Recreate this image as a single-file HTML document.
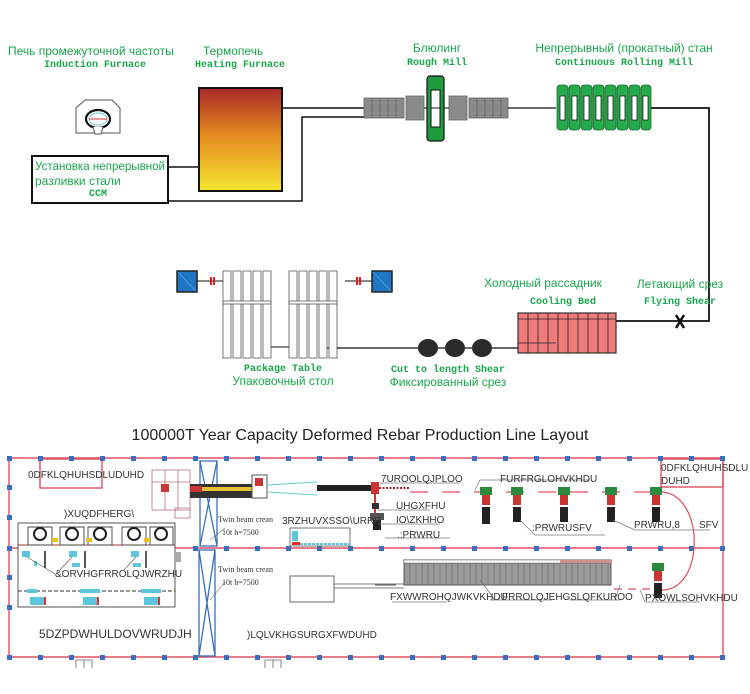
<!DOCTYPE html>
<html><head><meta charset="utf-8"><style>
html,body{margin:0;padding:0;background:#fff;}
svg{display:block}
.g{fill:#1aa64c;font-family:"Liberation Sans","DejaVu Sans",sans-serif;font-size:12px}
.ge{fill:#1aa64c;font-family:"Liberation Mono",monospace;font-size:10px;font-weight:bold}
.b{fill:#333;font-family:"Liberation Sans","DejaVu Sans",sans-serif;font-size:10px}
.s{fill:#333;font-family:"Liberation Serif",serif;font-size:8px}
</style></head><body>
<svg width="750" height="694" viewBox="0 0 750 694" xmlns="http://www.w3.org/2000/svg">
<defs>
<linearGradient id="hf" x1="0" y1="0" x2="0" y2="1">
<stop offset="0" stop-color="#a8282a"/><stop offset="0.45" stop-color="#e48a20"/><stop offset="1" stop-color="#f5e630"/>
</linearGradient>
</defs>
<!-- top labels -->
<text class="g" x="8" y="55">Печь промежуточной частоты</text>
<text class="ge" x="95" y="67" text-anchor="middle">Induction Furnace</text>
<text class="g" x="203" y="55">Термопечь</text>
<text class="ge" x="240" y="67" text-anchor="middle">Heating Furnace</text>
<text class="g" x="437" y="52" text-anchor="middle">Блюлинг</text>
<text class="ge" x="437" y="65" text-anchor="middle">Rough Mill</text>
<text class="g" x="624" y="52" text-anchor="middle">Непрерывный (прокатный) стан</text>
<text class="ge" x="624" y="65" text-anchor="middle">Continuous Rolling Mill</text>

<!-- induction furnace icon -->
<path d="M76 133 V108 L85 100 H112 L120 108 V133 Z" fill="#fff" stroke="#555" stroke-width="1"/>
<ellipse cx="98" cy="119" rx="12" ry="9" fill="none" stroke="#111" stroke-width="2.2"/>
<ellipse cx="98" cy="119" rx="9" ry="6" fill="none" stroke="#6cc" stroke-width="1"/>
<line x1="89" y1="119" x2="107" y2="119" stroke="#d33" stroke-width="1"/>
<path d="M93 127 L95 134 H101 L103 127" fill="#fff" stroke="#555"/>

<!-- heating furnace -->
<rect x="199" y="88" width="83" height="103" fill="url(#hf)" stroke="#111" stroke-width="2"/>
<!-- CCM -->
<rect x="32" y="156" width="136" height="47" fill="#fff" stroke="#111" stroke-width="2"/>
<text class="g" x="35" y="170" textLength="130" lengthAdjust="spacingAndGlyphs">Установка непрерывной</text>
<text class="g" x="35" y="185">разливки стали</text>
<text class="ge" x="98" y="196" text-anchor="middle">CCM</text>
<path d="M168 167 H199 M282 108 H365 M168 201 H302 V117 H365" fill="none" stroke="#111" stroke-width="1.5"/>

<!-- rough mill -->
<g fill="#8a8a8a" stroke="#666" stroke-width="0.8">
<rect x="364" y="98" width="8" height="20"/><rect x="372" y="98" width="8" height="20"/><rect x="380" y="98" width="8" height="20"/><rect x="388" y="98" width="8" height="20"/><rect x="396" y="98" width="8" height="20"/>
<rect x="406" y="96" width="18" height="24"/>
<rect x="449" y="96" width="18" height="24"/>
<rect x="469" y="98" width="8" height="20"/><rect x="477" y="98" width="8" height="20"/><rect x="485" y="98" width="8" height="20"/><rect x="493" y="98" width="8" height="20"/><rect x="501" y="98" width="7" height="20"/>
</g>
<line x1="424" y1="108" x2="449" y2="108" stroke="#111"/>
<rect x="427" y="76" width="17" height="65" rx="3" fill="#1f9a3c" stroke="#111" stroke-width="1.2"/>
<rect x="431" y="90" width="9" height="37" fill="#fff" stroke="#111"/>
<line x1="431" y1="108" x2="440" y2="108" stroke="#111"/>
<line x1="508" y1="108" x2="556" y2="108" stroke="#111" stroke-width="1.2"/>
<!-- continuous mill -->
<g>
<g fill="#27a84a" stroke="#1c6b30" stroke-width="0.8">
<rect x="557" y="85" width="11" height="45" rx="3"/><rect x="569" y="85" width="11" height="45" rx="3"/><rect x="581" y="85" width="11" height="45" rx="3"/><rect x="593" y="85" width="11" height="45" rx="3"/><rect x="605" y="85" width="11" height="45" rx="3"/><rect x="617" y="85" width="11" height="45" rx="3"/><rect x="629" y="85" width="11" height="45" rx="3"/><rect x="641" y="85" width="10" height="45" rx="3"/>
</g>
<g fill="#fff" stroke="#111" stroke-width="0.7">
<rect x="560" y="96" width="5" height="24"/><rect x="572" y="96" width="5" height="24"/><rect x="584" y="96" width="5" height="24"/><rect x="596" y="96" width="5" height="24"/><rect x="608" y="96" width="5" height="24"/><rect x="620" y="96" width="5" height="24"/><rect x="632" y="96" width="5" height="24"/><rect x="643" y="96" width="5" height="24"/>
</g>
</g>
<path d="M651 108 H709 V321 H616" fill="none" stroke="#111" stroke-width="1.8"/>
<!-- flying shear -->
<path d="M676 315 L684 328 M684 315 L676 328" stroke="#111" stroke-width="2.5"/>
<text class="g" x="543" y="287" text-anchor="middle">Холодный рассадник</text>
<text class="ge" x="563" y="304" text-anchor="middle">Cooling Bed</text>
<text class="g" x="680" y="288" text-anchor="middle">Летающий срез</text>
<text class="ge" x="680" y="304" text-anchor="middle">Flying Shear</text>
<!-- cooling bed -->
<rect x="518" y="313" width="98" height="40" fill="#ef7b7b" stroke="#333" stroke-width="1.2"/>
<g stroke="#222" stroke-width="0.8">
<line x1="528" y1="313" x2="528" y2="353"/><line x1="538" y1="313" x2="538" y2="353"/><line x1="548" y1="313" x2="548" y2="353"/><line x1="558" y1="313" x2="558" y2="353"/><line x1="568" y1="313" x2="568" y2="353"/><line x1="578" y1="313" x2="578" y2="353"/><line x1="588" y1="313" x2="588" y2="353"/><line x1="598" y1="313" x2="598" y2="353"/><line x1="608" y1="313" x2="608" y2="353"/>
<line x1="518" y1="319" x2="616" y2="319"/><line x1="518" y1="343" x2="556" y2="343"/>
</g>
<!-- cut shears -->
<line x1="326" y1="348" x2="518" y2="348" stroke="#111" stroke-width="1.2"/>
<ellipse cx="428" cy="348" rx="10" ry="9" fill="#2a2a2a"/>
<ellipse cx="455" cy="348" rx="10" ry="9" fill="#2a2a2a"/>
<ellipse cx="482" cy="348" rx="10" ry="9" fill="#2a2a2a"/>
<text class="ge" x="448" y="372" text-anchor="middle">Cut to length Shear</text>
<text class="g" x="448" y="386" text-anchor="middle">Фиксированный срез</text>
<!-- package table -->
<g fill="#fff" stroke="#555" stroke-width="0.8">
<rect x="223" y="271" width="8" height="87"/><rect x="233" y="271" width="8" height="87"/><rect x="243" y="271" width="8" height="87"/><rect x="253" y="271" width="8" height="87"/><rect x="263" y="271" width="8" height="87"/>
<rect x="289" y="271" width="8" height="87"/><rect x="299" y="271" width="8" height="87"/><rect x="309" y="271" width="8" height="87"/><rect x="319" y="271" width="8" height="87"/><rect x="329" y="271" width="8" height="87"/>
<rect x="223" y="301" width="48" height="3"/><rect x="289" y="301" width="48" height="3"/>
</g>
<line x1="271" y1="347" x2="289" y2="347" stroke="#111"/>
<line x1="337" y1="348" x2="345" y2="348" stroke="#111"/>
<rect x="177" y="271" width="20" height="21" fill="#2176c4" stroke="#222" stroke-width="1.5"/>
<line x1="178" y1="272" x2="196" y2="291" stroke="#5aa0e0" stroke-width="0.7"/>
<rect x="372" y="271" width="20" height="21" fill="#2176c4" stroke="#222" stroke-width="1.5"/>
<line x1="373" y1="272" x2="391" y2="291" stroke="#5aa0e0" stroke-width="0.7"/>
<path d="M197 281 H223 M345 281 H372" stroke="#111"/>
<path d="M211 277 V285 M214 277 V285 M357 277 V285 M360 277 V285" stroke="#d22" stroke-width="2"/>
<text class="ge" x="283" y="371" text-anchor="middle">Package Table</text>
<text class="g" x="283" y="385" text-anchor="middle">Упаковочный стол</text>

<!-- title -->
<text x="360" y="440" text-anchor="middle" style="font-family:'Liberation Sans','DejaVu Sans',sans-serif;font-size:16px;fill:#222">100000T Year Capacity Deformed Rebar Production Line Layout</text>

<!-- bottom layout grid -->
<g stroke="#e05060" stroke-width="1.4" fill="none">
<line x1="9" y1="458" x2="723" y2="458"/><line x1="9" y1="548" x2="723" y2="548"/><line x1="9" y1="657" x2="723" y2="657"/>
<line x1="9" y1="458" x2="9" y2="657"/><line x1="723" y1="458" x2="723" y2="657"/>
<rect x="40" y="459" width="62" height="29"/>
<rect x="661" y="459" width="62" height="28"/>
</g>
<g fill="#3a6fc0">
<rect x="7" y="456" width="5" height="5"/><rect x="38" y="456" width="5" height="5"/><rect x="69" y="456" width="5" height="5"/><rect x="100" y="456" width="5" height="5"/><rect x="131" y="456" width="5" height="5"/><rect x="162" y="456" width="5" height="5"/><rect x="193" y="456" width="5" height="5"/><rect x="224" y="456" width="5" height="5"/><rect x="255" y="456" width="5" height="5"/><rect x="286" y="456" width="5" height="5"/><rect x="317" y="456" width="5" height="5"/><rect x="348" y="456" width="5" height="5"/><rect x="379" y="456" width="5" height="5"/><rect x="410" y="456" width="5" height="5"/><rect x="441" y="456" width="5" height="5"/><rect x="472" y="456" width="5" height="5"/><rect x="503" y="456" width="5" height="5"/><rect x="534" y="456" width="5" height="5"/><rect x="565" y="456" width="5" height="5"/><rect x="596" y="456" width="5" height="5"/><rect x="627" y="456" width="5" height="5"/><rect x="658" y="456" width="5" height="5"/><rect x="689" y="456" width="5" height="5"/><rect x="720" y="456" width="5" height="5"/>
<rect x="7" y="546" width="5" height="5"/><rect x="38" y="546" width="5" height="5"/><rect x="69" y="546" width="5" height="5"/><rect x="100" y="546" width="5" height="5"/><rect x="131" y="546" width="5" height="5"/><rect x="162" y="546" width="5" height="5"/><rect x="193" y="546" width="5" height="5"/><rect x="224" y="546" width="5" height="5"/><rect x="255" y="546" width="5" height="5"/><rect x="286" y="546" width="5" height="5"/><rect x="317" y="546" width="5" height="5"/><rect x="348" y="546" width="5" height="5"/><rect x="379" y="546" width="5" height="5"/><rect x="410" y="546" width="5" height="5"/><rect x="441" y="546" width="5" height="5"/><rect x="472" y="546" width="5" height="5"/><rect x="503" y="546" width="5" height="5"/><rect x="534" y="546" width="5" height="5"/><rect x="565" y="546" width="5" height="5"/><rect x="596" y="546" width="5" height="5"/><rect x="627" y="546" width="5" height="5"/><rect x="658" y="546" width="5" height="5"/><rect x="689" y="546" width="5" height="5"/><rect x="720" y="546" width="5" height="5"/>
<rect x="7" y="655" width="5" height="5"/><rect x="38" y="655" width="5" height="5"/><rect x="69" y="655" width="5" height="5"/><rect x="100" y="655" width="5" height="5"/><rect x="131" y="655" width="5" height="5"/><rect x="162" y="655" width="5" height="5"/><rect x="193" y="655" width="5" height="5"/><rect x="224" y="655" width="5" height="5"/><rect x="255" y="655" width="5" height="5"/><rect x="286" y="655" width="5" height="5"/><rect x="317" y="655" width="5" height="5"/><rect x="348" y="655" width="5" height="5"/><rect x="379" y="655" width="5" height="5"/><rect x="410" y="655" width="5" height="5"/><rect x="441" y="655" width="5" height="5"/><rect x="472" y="655" width="5" height="5"/><rect x="503" y="655" width="5" height="5"/><rect x="534" y="655" width="5" height="5"/><rect x="565" y="655" width="5" height="5"/><rect x="596" y="655" width="5" height="5"/><rect x="627" y="655" width="5" height="5"/><rect x="658" y="655" width="5" height="5"/><rect x="689" y="655" width="5" height="5"/><rect x="720" y="655" width="5" height="5"/>
<rect x="7" y="485" width="5" height="5"/><rect x="7" y="515" width="5" height="5"/><rect x="7" y="575" width="5" height="5"/><rect x="7" y="605" width="5" height="5"/>
</g>
<!-- doors -->
<path d="M76 668 V660 H92 V668 M84 660 V668" fill="none" stroke="#666" stroke-width="0.8"/>
<path d="M265 668 V660 H281 V668 M273 660 V668" fill="none" stroke="#666" stroke-width="0.8"/>

<!-- melt shop building -->
<rect x="18" y="523" width="157" height="84" fill="#fff" stroke="#444" stroke-width="0.9"/>
<line x1="18" y1="591" x2="175" y2="591" stroke="#333" stroke-dasharray="4 2"/>
<line x1="18" y1="545" x2="175" y2="545" stroke="#a33" stroke-width="1"/>
<g fill="#fff" stroke="#444" stroke-width="0.9">
<path d="M28 545 V527 H52 V545 Z"/><path d="M60 545 V527 H84 V545 Z"/><path d="M88 545 V527 H112 V545 Z"/><path d="M122 545 V527 H146 V545 Z"/><path d="M150 545 V527 H173 V545 Z"/>
</g>
<g fill="none" stroke="#222" stroke-width="2">
<circle cx="40" cy="534" r="6"/><circle cx="72" cy="534" r="6"/><circle cx="100" cy="534" r="6"/><circle cx="134" cy="534" r="6"/><circle cx="161" cy="534" r="6"/>
</g>
<g fill="#5cc6dc">
<rect x="22" y="551" width="8" height="6"/><rect x="69" y="551" width="8" height="6"/><rect x="131" y="551" width="8" height="6"/>
<rect x="34" y="561" width="3" height="5"/><rect x="72" y="563" width="8" height="4"/><rect x="133" y="563" width="8" height="4"/>
<rect x="30" y="597" width="14" height="8"/><rect x="83" y="597" width="14" height="8"/><rect x="144" y="597" width="14" height="8"/>
<rect x="27" y="589" width="10" height="4"/><rect x="80" y="589" width="20" height="4"/><rect x="141" y="589" width="20" height="4"/>
</g>
<g fill="#e03030"><rect x="44" y="597" width="2" height="8"/><rect x="97" y="597" width="2" height="8"/><rect x="158" y="597" width="2" height="8"/></g>
<g fill="#e8c020"><rect x="52" y="538" width="6" height="4"/><rect x="86" y="538" width="6" height="4"/><rect x="144" y="538" width="6" height="4"/></g>
<g stroke="#222" stroke-width="1.5"><line x1="45" y1="551" x2="45" y2="568"/><line x1="85" y1="551" x2="85" y2="568"/><line x1="146" y1="551" x2="146" y2="568"/></g>
<path d="M27 557 L55 574 M72 557 L60 570 M136 557 L124 570" stroke="#555" stroke-width="0.6" fill="none"/>
<rect x="176" y="552" width="5" height="10" fill="#aaa"/>

<!-- twin beam cranes -->
<g fill="none" stroke="#3a6fc0" stroke-width="1.3">
<rect x="200" y="461" width="17" height="85"/><path d="M200 461 L217 546 M217 461 L200 546"/>
<rect x="199" y="550" width="16" height="106"/><path d="M199 550 L215 656 M215 550 L199 656"/>
</g>
<text class="s" x="218" y="522">Twin beam crean</text>
<text class="s" x="222" y="535">10t  h=7500</text>
<text class="s" x="218" y="572">Twin beam crean</text>
<text class="s" x="222" y="585">10t  h=7500</text>
<line x1="210" y1="540" x2="225" y2="528" stroke="#444" stroke-width="0.5"/>
<line x1="210" y1="600" x2="225" y2="582" stroke="#444" stroke-width="0.5"/>

<!-- furnace area top -->
<g fill="none" stroke="#b87080" stroke-width="0.8">
<rect x="152" y="470" width="38" height="40"/><line x1="152" y1="482" x2="190" y2="482"/><line x1="165" y1="470" x2="165" y2="510"/><line x1="178" y1="470" x2="178" y2="510"/>
<rect x="175" y="508" width="15" height="10"/>
</g>
<rect x="161" y="484" width="8" height="8" fill="#c33"/>
<rect x="190" y="484" width="66" height="14" fill="#333"/>
<rect x="198" y="487" width="58" height="4" fill="#e8c030"/>
<rect x="190" y="486" width="12" height="6" fill="#c33"/>
<rect x="252" y="475" width="15" height="23" fill="#fff" stroke="#555"/>
<rect x="255" y="478" width="8" height="8" fill="#c33"/>
<path d="M267 485 L317 482 M267 492 L317 495" stroke="#6cc" stroke-width="1"/>
<line x1="317" y1="488" x2="372" y2="488" stroke="#222" stroke-width="6"/>
<line x1="372" y1="488" x2="410" y2="488" stroke="#a22" stroke-width="2" stroke-dasharray="2 1.5"/>
<rect x="371" y="482" width="8" height="12" fill="#c33"/>
<line x1="375" y1="494" x2="375" y2="517" stroke="#e03030" stroke-width="2"/>
<rect x="372" y="503" width="7" height="6" fill="#333"/>
<rect x="370" y="513" width="14" height="7" fill="#555"/>
<rect x="373" y="520" width="8" height="10" fill="#222"/>
<!-- power supply -->
<rect x="290" y="528" width="60" height="18" fill="#fff" stroke="#555" stroke-width="0.8"/>
<rect x="292" y="531" width="6" height="10" fill="#5cc6dc"/>
<rect x="292" y="542" width="8" height="3" fill="#e03030"/>
<path d="M300 544 H350" stroke="#5cc6dc" stroke-width="2" stroke-dasharray="3 1"/>
<!-- finished product area -->
<rect x="290" y="576" width="44" height="26" fill="#fff" stroke="#444" stroke-width="0.8"/>
<path d="M334 584 H404 M334 588 H404" stroke="#555" stroke-width="0.7"/>

<!-- crocodile shears top -->
<line x1="410" y1="492" x2="657" y2="492" stroke="#e05060" stroke-width="1.2" stroke-dasharray="18 14"/>
<g>
<g fill="#2c8a3e"><rect x="480" y="487" width="12" height="8"/><rect x="511" y="487" width="12" height="8"/><rect x="558" y="487" width="12" height="8"/><rect x="605" y="487" width="12" height="8"/><rect x="650" y="487" width="12" height="8"/><rect x="652" y="563" width="12" height="8"/></g>
<g fill="#c33"><rect x="482" y="495" width="8" height="10"/><rect x="513" y="495" width="8" height="10"/><rect x="560" y="495" width="8" height="10"/><rect x="607" y="495" width="8" height="10"/><rect x="652" y="495" width="8" height="10"/><rect x="654" y="571" width="8" height="10"/></g>
<g fill="#222"><rect x="482" y="507" width="8" height="17"/><rect x="513" y="507" width="8" height="15"/><rect x="560" y="507" width="8" height="15"/><rect x="607" y="507" width="8" height="15"/><rect x="652" y="507" width="8" height="15"/><rect x="654" y="583" width="8" height="15"/></g>
</g>
<path d="M662 492 C705 495 705 590 662 590" fill="none" stroke="#e05060" stroke-width="1.2"/>
<line x1="614" y1="589" x2="655" y2="589" stroke="#e05060" stroke-width="1.2" stroke-dasharray="8 6"/>
<!-- bottom cooling bed -->
<rect x="404" y="560" width="207" height="25" fill="#9a9a9a" stroke="#555"/>
<g stroke="#666" stroke-width="0.6">
<path d="M410 562V584M416 562V584M422 562V584M428 562V584M434 562V584M440 562V584M446 562V584M452 562V584M458 562V584M464 562V584M470 562V584M476 562V584M482 562V584M488 562V584M494 562V584M500 562V584M506 562V584M512 562V584M518 562V584M524 562V584M530 562V584M536 562V584M542 562V584M548 562V584M554 562V584M560 562V584M566 562V584M572 562V584M578 562V584M584 562V584M590 562V584M596 562V584M602 562V584M608 562V584"/>
</g>
<rect x="404" y="560" width="207" height="3" fill="#fff" stroke="#555" stroke-width="0.5"/>
<rect x="560" y="560" width="51" height="3" fill="#d09090"/>
<path d="M375 585 H396" stroke="#555"/>

<!-- leader lines -->
<g stroke="#777" stroke-width="0.7" fill="none">
<path d="M380 483 H460 M480 480 H590 M480 480 L475 490"/>
<path d="M378 510 H430 M378 524 H440 M385 538 H450"/>
<path d="M520 520 L535 535 H605 M613 520 L635 530 H710"/>
<path d="M392 602 H447 M490 600 H552 M570 600 H620 M645 602 H700 M640 590 L645 602"/>
<path d="M620 585 L615 600 M480 580 L495 600"/>
</g>

<!-- bottom labels -->
<text class="b" x="28" y="478">0DFKLQHUHSDLUDUHD</text>
<text class="b" x="64" y="517">)XUQDFHERG\</text>
<text class="b" x="55" y="577">&amp;ORVHGFRROLQJWRZHU</text>
<text class="b" x="39" y="638" style="font-size:12px">5DZPDWHULDOVWRUDJH</text>
<text class="b" x="247" y="638">)LQLVKHGSURGXFWDUHD</text>
<text class="b" x="282" y="524">3RZHUVXSSO\URRP</text>
<text class="b" x="381" y="482">7UROOLQJPLOO</text>
<text class="b" x="500" y="482">FURFRGLOHVKHDU</text>
<text class="b" x="396" y="509">UHGXFHU</text>
<text class="b" x="396" y="523">IO\ZKHHO</text>
<text class="b" x="397" y="538">.:PRWRU</text>
<text class="b" x="532" y="531">:PRWRUSFV</text>
<text class="b" x="634" y="528">PRWRU,8</text>
<text class="b" x="699" y="528">SFV</text>
<text class="b" x="661" y="471">0DFKLQHUHSDLU</text>
<text class="b" x="661" y="484">DUHD</text>
<text class="b" x="390" y="600">FXWWROHQJWKVKHDU</text>
<text class="b" x="502" y="600">FRROLQJEHG</text>
<text class="b" x="570" y="600">SLQFKUROO</text>
<text class="b" x="645" y="601">PXOWLSOHVKHDU</text>
</svg>
</body></html>
